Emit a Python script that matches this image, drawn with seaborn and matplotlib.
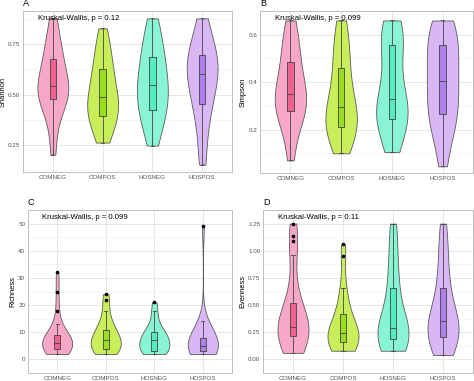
import pandas as pd
import matplotlib
matplotlib.use("Agg")
import matplotlib.pyplot as plt
import seaborn as sns

groups = ["COMNEG", "COMPOS", "HOSNEG", "HOSPOS"]

shannon = {
    "COMNEG": [0.20, 0.30, 0.40, 0.45, 0.47, 0.48, 0.50, 0.51, 0.52, 0.53, 0.55, 0.57, 0.60, 0.63, 0.67, 0.69, 0.72, 0.76, 0.82, 0.88],
    "COMPOS": [0.26, 0.30, 0.34, 0.37, 0.38, 0.40, 0.42, 0.44, 0.46, 0.48, 0.50, 0.52, 0.55, 0.58, 0.62, 0.65, 0.68, 0.72, 0.77, 0.83],
    "HOSNEG": [0.245, 0.30, 0.35, 0.39, 0.41, 0.43, 0.46, 0.49, 0.51, 0.53, 0.56, 0.58, 0.61, 0.64, 0.68, 0.70, 0.74, 0.78, 0.83, 0.88],
    "HOSPOS": [0.15, 0.22, 0.33, 0.40, 0.44, 0.46, 0.50, 0.55, 0.58, 0.59, 0.61, 0.63, 0.65, 0.67, 0.69, 0.71, 0.74, 0.78, 0.83, 0.88],
}
simpson = {
    "COMNEG": [0.07, 0.15, 0.22, 0.25, 0.27, 0.28, 0.30, 0.32, 0.33, 0.34, 0.36, 0.38, 0.41, 0.44, 0.48, 0.50, 0.54, 0.58, 0.62, 0.66],
    "COMPOS": [0.10, 0.14, 0.17, 0.19, 0.20, 0.215, 0.23, 0.25, 0.27, 0.29, 0.30, 0.33, 0.37, 0.41, 0.45, 0.49, 0.53, 0.57, 0.62, 0.66],
    "HOSNEG": [0.105, 0.15, 0.19, 0.22, 0.23, 0.25, 0.27, 0.29, 0.31, 0.32, 0.34, 0.38, 0.44, 0.50, 0.55, 0.57, 0.60, 0.62, 0.64, 0.66],
    "HOSPOS": [0.045, 0.14, 0.20, 0.23, 0.25, 0.27, 0.30, 0.33, 0.37, 0.39, 0.42, 0.45, 0.48, 0.51, 0.55, 0.57, 0.60, 0.62, 0.64, 0.66],
}
richness = {
    "COMNEG": [2, 3, 3, 4, 4, 4, 5, 5, 6, 6, 6, 7, 7, 8, 8, 9, 10, 13, 18, 25, 32],
    "COMPOS": [2, 2, 3, 3, 4, 4, 5, 6, 6, 7, 7, 8, 9, 10, 11, 11, 13, 15, 18, 22, 24],
    "HOSNEG": [2, 2, 3, 3, 3, 3, 4, 5, 6, 7, 7, 7, 8, 9, 9, 10, 11, 12, 15, 18, 21],
    "HOSPOS": [2, 2, 3, 3, 3, 3, 4, 4, 5, 5, 5, 6, 6, 7, 7, 8, 9, 10, 12, 14, 49],
}
evenness = {
    "COMNEG": [0.06, 0.10, 0.15, 0.18, 0.20, 0.22, 0.24, 0.26, 0.28, 0.29, 0.30, 0.33, 0.37, 0.42, 0.47, 0.52, 0.65, 0.96, 1.09, 1.14, 1.25],
    "COMPOS": [0.08, 0.10, 0.12, 0.14, 0.15, 0.16, 0.18, 0.20, 0.22, 0.23, 0.24, 0.26, 0.28, 0.31, 0.36, 0.42, 0.50, 0.58, 0.66, 0.95, 1.06],
    "HOSNEG": [0.08, 0.10, 0.13, 0.16, 0.18, 0.19, 0.21, 0.23, 0.25, 0.27, 0.29, 0.32, 0.38, 0.46, 0.56, 0.66, 0.75, 0.85, 1.00, 1.15, 1.25],
    "HOSPOS": [0.04, 0.08, 0.12, 0.16, 0.19, 0.21, 0.24, 0.27, 0.30, 0.33, 0.35, 0.38, 0.42, 0.48, 0.56, 0.66, 0.75, 0.86, 1.00, 1.12, 1.25],
}

violin_colors = ["#F7A8C8", "#C8EE5A", "#88F4D4", "#D9B7F5"]
box_colors = ["#F06292", "#9ADF1E", "#52ECBE", "#AE80EC"]

panels = [
    # letter, ylabel, data, p text, ticks, ylim, axes rect (px: left, top, right, bottom)
    ("A", "Shannon", shannon, "Kruskal-Wallis, p = 0.12", [0.25, 0.50, 0.75], (0.113, 0.917), (23, 11, 232, 172)),
    ("B", "Simpson", simpson, "Kruskal-Wallis, p = 0.099", [0.2, 0.4, 0.6], (0.017, 0.69), (260, 11, 473, 173)),
    ("C", "Richness", richness, "Kruskal-Wallis, p = 0.099", [0, 10, 20, 30, 40, 50], (-1.3, 51.6), (28, 210, 232, 373)),
    ("D", "Evenness", evenness, "Kruskal-Wallis, p = 0.11", [0.0, 0.25, 0.5, 0.75, 1.0, 1.25], (-0.025, 1.316), (263, 210, 473, 373)),
]
tick_fmt = {"A": "{:.2f}", "B": "{:.1f}", "C": "{:d}", "D": "{:.2f}"}

W, H = 474, 381
fig = plt.figure(figsize=(W / 100, H / 100), dpi=100)
plt.rcParams["font.family"] = ["Liberation Sans", "DejaVu Sans"]

for letter, ylab, data, ptext, ticks, ylim, (l, t, r, b) in panels:
    ax = fig.add_axes([l / W, (H - b) / H, (r - l) / W, (b - t) / H])
    df = pd.DataFrame([(g, v) for g in groups for v in data[g]], columns=["group", "value"])

    sns.violinplot(data=df, x="group", y="value", hue="group", order=groups, hue_order=groups,
                   palette=violin_colors, saturation=1, inner=None, cut=0, density_norm="area",
                   width=0.62, linewidth=0.6, linecolor="#5a5a5a", legend=False, ax=ax, zorder=2)
    sns.boxplot(data=df, x="group", y="value", hue="group", order=groups, hue_order=groups,
                palette=box_colors, saturation=1, width=0.13, linewidth=0.6, linecolor="#444444",
                fliersize=1.6, flierprops={"marker": "o", "markerfacecolor": "black", "markeredgecolor": "black"},
                legend=False, ax=ax, zorder=3)

    ax.set_xlim(-0.6, 3.6)
    ax.set_ylim(*ylim)
    ax.set_yticks(ticks)
    ax.set_yticklabels([tick_fmt[letter].format(v) for v in ticks])
    step = ticks[1] - ticks[0]
    minor = [ticks[0] - step / 2] + [v + step / 2 for v in ticks]
    ax.set_yticks(minor, minor=True)
    ax.grid(True, which="major", color="#E6E6E6", linewidth=0.7)
    ax.grid(True, which="minor", axis="y", color="#F2F2F2", linewidth=0.5)
    ax.set_axisbelow(True)
    for s in ax.spines.values():
        s.set_color("#BDBDBD")
        s.set_linewidth(0.7)
    ax.tick_params(which="both", length=0, labelsize=4.5, labelcolor="#555555", pad=2)
    ax.tick_params(axis="y", which="minor", labelleft=False)
    ax.set_xlabel("")
    ax.set_ylabel(ylab, fontsize=5.4, labelpad=1)
    ax.text(0.07, 0.975, ptext, transform=ax.transAxes, fontsize=5.6, va="top", ha="left", zorder=5)
    fig.text(l / W, 1 - (t - 3) / H, letter, fontsize=6.5, ha="left", va="bottom")

fig.savefig("out.png", dpi=100)
